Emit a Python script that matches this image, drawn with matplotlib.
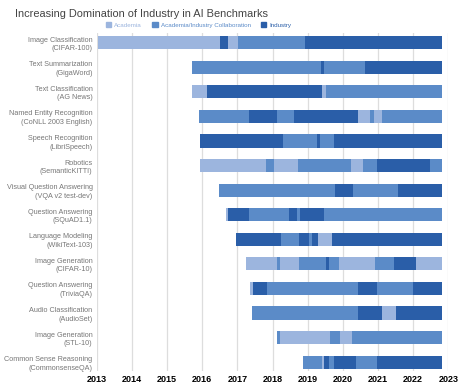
import matplotlib.pyplot as plt
from matplotlib.patches import Patch

plt.rcParams['font.family'] = ['Liberation Sans', 'DejaVu Sans']

# nomes dos benchmarks (de cima para baixo)
benchmarks = [
    "Image Classification\n(CIFAR-100)",
    "Text Summarization\n(GigaWord)",
    "Text Classification\n(AG News)",
    "Named Entity Recognition\n(CoNLL 2003 English)",
    "Speech Recognition\n(LibriSpeech)",
    "Robotics\n(SemanticKITTI)",
    "Visual Question Answering\n(VQA v2 test-dev)",
    "Question Answering\n(SQuAD1.1)",
    "Language Modeling\n(WikiText-103)",
    "Image Generation\n(CIFAR-10)",
    "Question Answering\n(TriviaQA)",
    "Audio Classification\n(AudioSet)",
    "Image Generation\n(STL-10)",
    "Common Sense Reasoning\n(CommonsenseQA)",
]

# limites dos segmentos (anos) para cada benchmark
limites = [
    [2013.05, 2016.51, 2016.72, 2017.01, 2018.92, 2022.83],
    [2015.70, 2019.37, 2019.47, 2020.63, 2022.83],
    [2015.72, 2016.13, 2019.40, 2019.52, 2022.83],
    [2015.90, 2017.33, 2018.14, 2018.60, 2020.44, 2020.77, 2020.89, 2021.11, 2022.83],
    [2015.95, 2018.29, 2019.27, 2019.35, 2019.76, 2022.83],
    [2015.95, 2017.81, 2018.05, 2018.72, 2020.22, 2020.58, 2020.97, 2022.49, 2022.83],
    [2016.47, 2019.78, 2020.30, 2021.56, 2022.83],
    [2016.67, 2016.72, 2017.34, 2018.48, 2018.70, 2018.79, 2019.47, 2022.83],
    [2016.97, 2018.23, 2018.74, 2019.03, 2019.12, 2019.29, 2019.70, 2022.83],
    [2017.24, 2018.13, 2018.22, 2018.74, 2019.53, 2019.61, 2019.88, 2020.92, 2021.46, 2022.09, 2022.83],
    [2017.37, 2017.43, 2017.84, 2020.44, 2020.97, 2021.99, 2022.83],
    [2017.41, 2020.42, 2021.11, 2021.50, 2022.83],
    [2018.14, 2018.22, 2019.62, 2019.92, 2020.27, 2022.83],
    [2018.86, 2019.40, 2019.45, 2019.60, 2019.76, 2020.37, 2020.97, 2022.83],
]

# tipo de cada segmento: A = Academia, C = Colaboração, I = Indústria
tipos = [
    "AIACI",
    "CICI",
    "AIAC",
    "CICIACAC",
    "ICICI",
    "ACACACIC",
    "CICI",
    "AICICIC",
    "ICICIAI",
    "ACACICACIA",
    "AICICI",
    "CIAI",
    "CACAC",
    "CAICICI",
]

cores = {"A": "#9cb5de", "C": "#5b8bc8", "I": "#2a5ea8"}
nomes = {"A": "Academia", "C": "Academia/Industry Collaboration", "I": "Industry"}
anos = list(range(2013, 2024))

fig = plt.figure(figsize=(4.74, 3.87), dpi=100)
ax = fig.add_axes([0.204, 0.042, 0.742, 0.873])

for i in range(len(benchmarks)):
    lim = limites[i]
    for j, t in enumerate(tipos[i]):
        ax.barh(i, lim[j + 1] - lim[j], left=lim[j], height=0.53, color=cores[t], linewidth=0)

ax.set_xlim(2013, 2023)
ax.set_ylim(13.35, -0.4)
ax.set_xticks(anos)
ax.set_xticklabels([str(a) for a in anos], fontsize=6.5, fontweight="bold")
ax.set_yticks(range(len(benchmarks)))
ax.set_yticklabels(benchmarks, fontsize=5.2, color="#777777", linespacing=1.3)
ax.tick_params(length=0, pad=3)
ax.grid(axis="x", color="#dddddd", linewidth=0.9)
ax.set_axisbelow(True)
for s in ax.spines.values():
    s.set_visible(False)

fig.text(0.032, 0.965, "Increasing Domination of Industry in AI Benchmarks",
         fontsize=7.9, color="#444444", va="center")

handles = [Patch(color=cores[k], label=nomes[k]) for k in "ACI"]
fig.legend(handles=handles, loc="center", bbox_to_anchor=(0.419, 0.935), ncol=3,
           frameon=False, fontsize=4.5, labelcolor="linecolor", handlelength=0.9,
           handleheight=0.9, columnspacing=1.6, handletextpad=0.5)

plt.savefig("out.png", dpi=100)
